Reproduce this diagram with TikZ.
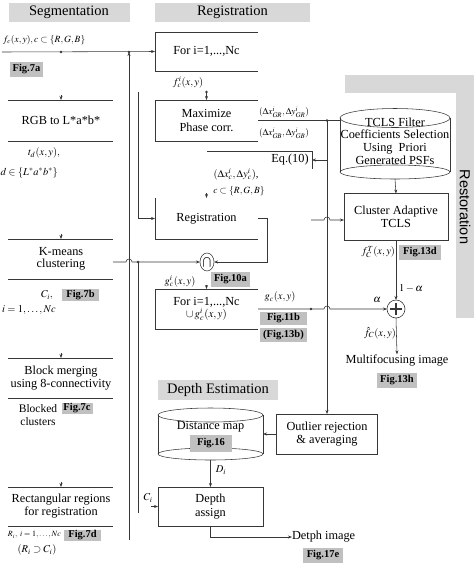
\documentclass[tikz,border=0pt]{standalone}
\usepackage{mathptmx}
\usepackage{fontspec}
\setmainfont{Liberation Serif}
\newfontfamily\sansf{Liberation Sans}
\usetikzlibrary{arrows.meta,calc,shapes.geometric}
\definecolor{hdr}{RGB}{216,216,216}
\definecolor{figg}{RGB}{192,192,192}
\definecolor{ln}{RGB}{55,55,55}
\newcommand\opensides[1]{\draw[conn] (#1.north east) -- (#1.north west) -- (#1.south west) -- (#1.south east);}
\begin{document}
\begin{tikzpicture}[x=1pt,y=-1pt,
  every node/.style={inner sep=0pt,outer sep=0pt},
  txt/.style={font=\fontsize{12.3}{13.5}\selectfont, align=center},
  mth/.style={font=\fontsize{10.5}{12}\selectfont},
  sml/.style={font=\fontsize{9.3}{10}\selectfont},
  hdrbox/.style={fill=hdr, font=\fontsize{14.5}{16}\selectfont, minimum height=19pt},
  figlab/.style={fill=figg, font=\bfseries\fontsize{10.5}{11}\selectfont, minimum height=14pt, minimum width=40pt},
  conn/.style={draw=ln, line width=0.55pt},
  arr/.style={conn, -{Stealth[length=4pt,width=3pt]}},
  openbox/.style={txt, minimum width=103pt, minimum height=40pt},
  fullbox/.style={txt, draw=ln, line width=0.6pt},
  dot/.style={fill=ln},
]
\useasboundingbox (0,0) rectangle (474,566);

% headings
\node[hdrbox, minimum width=121pt] (hseg) at (69,12.5) {Segmentation};
\node[hdrbox, minimum width=155pt] (hreg) at (232.5,12.5) {Registration};
\fill[hdr] (345,75) rectangle (474,93);
\fill[hdr] (456,75) rectangle (474,318);
\node[font=\sansf\fontsize{14.5}{16}\selectfont, rotate=-90] (hres) at (465,207) {Restoration};
\node[hdrbox, minimum width=120pt, minimum height=20pt] (hdep) at (218,390) {Depth Estimation};

% input
\node[mth, font=\fontsize{9.5}{11}\selectfont, anchor=west] (fin) at (3,40) {$f_c(x,y), c\subset\{R,G,B\}$};
\node[figlab, minimum width=33pt, minimum height=15pt] (f7a) at (26.5,69.5) {Fig.7a};
\coordinate (in0) at (2,52);
\node[openbox, minimum height=39pt] (for1) at (206.5,51.5) {For i=1,...,Nc};
\opensides{for1}
\draw[arr] (in0) -- (for1.west);
\coordinate (j0) at (61,52);
\coordinate (j1) at (129,52);
\fill[dot] (j0) circle (1.4);
\fill[dot] (j1) circle (1.4);

% segmentation pipeline
\foreach \yy in {100,141,239,279,358,398,487,526} \draw[conn] (8,\yy) -- (113,\yy);
\foreach \yy in {100,239,358,487} \draw[arr] (61,{\yy-5}) -- (61,\yy);
\node[txt] (rgb) at (61,120) {RGB to L*a*b*};
\node[mth, anchor=east] (td) at (60,153) {$t_d(x,y),$};
\node[mth, anchor=east] (dset) at (58,173) {$d\in\{L^*a^*b^*\}$};
\node[txt, font=\fontsize{12.3}{12.5}\selectfont] (km) at (61,259) {K-means\\clustering};
\node[mth] (ci) at (47,295) {$C_i,$};
\node[figlab, minimum width=37pt, minimum height=12pt] (f7b) at (80.5,295) {Fig.7b};
\node[mth] (ilist) at (29,310) {$i=1,\ldots,Nc$};
\node[txt, font=\fontsize{12.3}{13}\selectfont] (bm) at (61,378) {Block merging\\using 8-connectivity};
\node[txt, font=\fontsize{11.5}{13}\selectfont] (bc) at (38,415) {Blocked\\clusters};
\node[figlab, minimum width=31pt, minimum height=11pt] (f7c) at (77,408) {Fig.7c};
\node[txt, font=\fontsize{12.3}{13}\selectfont] (rr) at (61,506) {Rectangular regions\\for registration};
\node[font=\fontsize{8}{9}\selectfont, anchor=east] (ri) at (61,535) {$R_i,\ i=1,\ldots,Nc$};
\node[figlab, minimum width=37pt, minimum height=11pt] (f7d) at (82.5,535) {Fig.7d};
\node[mth] (rsup) at (37,550) {$(R_i\supset C_i)$};

% long vertical feed
\coordinate (vb) at (129,540);
\draw[arr] (vb) -- (j1);

% registration column
\node[mth] (fci) at (188,82) {$f_c^i(x,y)$};
\node[openbox, minimum height=41pt] (maxb) at (206.5,120.5) {Maximize\\Phase corr.};
\opensides{maxb}
\coordinate (d3) at (206.5,92);
\fill[dot] (d3) circle (1.4);
\draw[arr] (d3) -- (maxb.north);
\node[sml] (dgr) at (284,112) {$(\Delta x^i_{GR},\Delta y^i_{GR})$};
\node[sml] (dgb) at (284,133) {$(\Delta x^i_{GB},\Delta y^i_{GB})$};

% TCLS cylinder
\node[minimum width=110pt, minimum height=61pt] (cyl) at (395,148.5) {};
\draw[conn] (340,118) -- (340,172) (450,118) -- (450,172);
\draw[conn] (395,118) ellipse [x radius=55, y radius=9.5];
\draw[conn] (395,172) ellipse [x radius=55, y radius=7];
\node[txt, font=\fontsize{12.3}{12.7}\selectfont] (cylt) at (395,141) {TCLS Filter\\Coefficients Selection\\Using\enspace Priori\\Generated PSFs};

\draw[conn] (maxb.east) -- (maxb.east -| cyl.west);
\coordinate (j3) at (327,120.5);
\fill[dot] (j3) circle (1.4);

% Eq.(10)
\node[txt, minimum width=44pt, minimum height=18pt] (eq) at (290,160) {Eq.(10)};
\draw[conn] (207,151) -- (eq.north east) -- (eq.south east);
\draw[arr] (eq.east -| j3) -- (eq.east);
\node[mth] (dxc) at (236,174) {$(\Delta x_c^i,\Delta y_c^i)$,};
\node[mth, font=\fontsize{9.5}{11}\selectfont] (cset) at (239,191) {$c\subset\{R,G,B\}$};

% registration box (left and bottom sides only)
\node[openbox, minimum height=41pt] (regb) at (206.5,218.5) {Registration};
\draw[conn] (regb.north west) -- (regb.south west) -- (regb.south east);
\draw[arr] ([yshift=5pt]regb.north) -- (regb.north);
\coordinate (v2top) at (138,92);
\draw[arr] (v2top) |- (regb.west);

% intersection node
\node[draw=ln, line width=0.55pt, ellipse, minimum width=14pt, minimum height=18pt] (cap) at (207,262) {};
\node[font=\fontsize{11}{11}\selectfont] at (cap.center) {$\bigcap$};
\coordinate (kmout) at (113,262);
\coordinate (j2) at (138,262);
\draw[arr] (kmout) -- (126,262) arc[start angle=180, end angle=360, radius=3] -- (cap.west);
\fill[dot] (j2) circle (1.4);
\coordinate (v4b) at (138,513);
\draw[conn] (j2) -- (v4b);
\draw[arr] (regb.east) -- (267,218.5) |- (cap.east);
\node[figlab, minimum width=39pt, minimum height=15pt] (f10a) at (230.5,279.5) {Fig.10a};
\node[mth] (gci) at (180,281) {$g_c^i(x,y)$};

% second for box
\node[openbox, minimum height=40pt] (for2) at (206.5,309) {For i=1,...,Nc\\[-1pt]{\fontsize{11}{12}\selectfont$\cup\, g_c^i(x,y)$}};
\opensides{for2}
\draw[arr] ([yshift=4pt]for2.north) -- (for2.north);
\node[mth] (gc) at (280,297) {$g_c(x,y)$};
\node[figlab, minimum width=47pt, minimum height=13pt] (f11b) at (283.5,318.5) {Fig.11b};
\node[figlab, minimum width=47pt, minimum height=14pt] (f13b) at (283.5,335) {(Fig.13b)};

% restoration
\node[fullbox, minimum width=104pt, minimum height=47pt] (clus) at (396,217) {Cluster Adaptive\\TCLS};
\draw[arr] (cyl.south) -- (clus.north);
\coordinate (c220) at (311,220);
\draw[arr] (c220) -- (324,220) arc[start angle=180, end angle=360, radius=3] -- (c220 -| clus.west);
\node[mth, anchor=east] (fct) at (395,252) {$f_C^T(x,y)$};
\node[figlab, minimum width=42pt, minimum height=15pt] (f13d) at (420,252.5) {Fig.13d};

\node[draw=ln, circle, line width=0.6pt, minimum size=18pt] (sum) at (396,309) {};
\draw[line width=1.3pt, draw=ln] ($(sum.center)+(-6,0)$) -- ($(sum.center)+(6,0)$) ($(sum.center)+(0,-6)$) -- ($(sum.center)+(0,6)$);
\draw[arr] (clus.south) -- (sum.north);
\node[mth] (oma) at (411,288) {$1-\alpha$};
\coordinate (j4) at (311,309);
\draw[arr] (for2.east) -- (324,309) arc[start angle=180, end angle=360, radius=3] -- (sum.west);
\fill[dot] (j4) circle (1.4);
\node[mth] (al) at (377,300) {$\alpha$};
\node[mth] (fhat) at (380,333) {$\hat f_C(x,y)$};
\node[txt] (multi) at (397,360) {Multifocusing image};
\draw[arr] (sum.south) -- (multi.north);
\node[figlab, minimum width=40pt, minimum height=15pt] (f13h) at (397,380.5) {Fig.13h};

% depth estimation
\node[fullbox, minimum width=101pt, minimum height=40pt] (outl) at (327,434) {Outlier rejection\\\& averaging};
\draw[arr] (j3) -- (outl.north);
\node[minimum width=105pt, minimum height=52pt] (dist) at (210.5,434) {};
\draw[conn] (158,415) -- (158,454) (263,415) -- (263,454);
\draw[conn] (210.5,415) ellipse [x radius=52.5, y radius=7];
\draw[conn] (210.5,454) ellipse [x radius=52.5, y radius=6];
\node[txt] (distt) at (210.5,427) {Distance map};
\node[figlab, minimum width=42pt, minimum height=17pt] (f16) at (211,443.5) {Fig.16};
\draw[arr] (outl.west) -- (dist.east);
\node[fullbox, minimum width=105pt, minimum height=39pt] (dep) at (210.5,506.5) {Depth\\assign};
\draw[arr] (dist.south) -- (dep.north);
\node[mth] (di) at (221,470) {$D_i$};
\coordinate (cin) at (151,506.5);
\draw[arr] (cin) -- (dep.west);
\node[mth] (cil) at (148,498) {$C_i$};
\node[txt, anchor=west] (dimg) at (292,537) {Detph image};
\draw[arr] (dep.south) |- (dimg.west);
\node[figlab, minimum width=40pt, minimum height=15pt] (f17e) at (323,555.5) {Fig.17e};
\end{tikzpicture}
\end{document}
